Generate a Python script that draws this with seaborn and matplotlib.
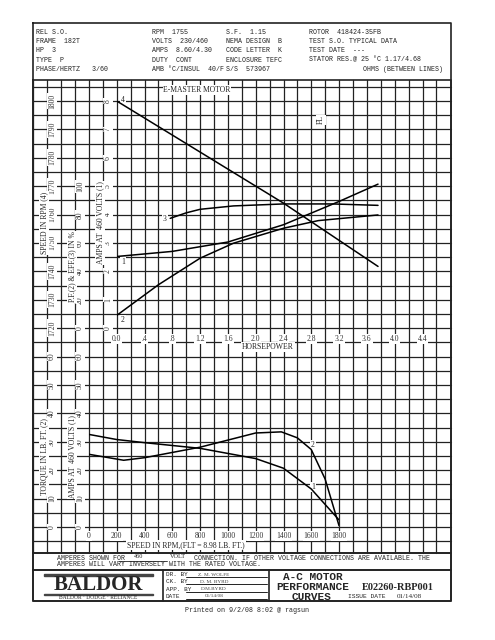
import numpy as np, pandas as pd
import matplotlib
matplotlib.use("Agg")
import matplotlib.pyplot as plt
import seaborn as sns
from matplotlib.transforms import blended_transform_factory as btf

# ---- data ----
hp_speed = [0.0, 1.2, 2.4, 3.76]
speed_rpm = [1800, 1782, 1764, 1741.7]
hp_eff = [0.77, 1.0, 1.2, 1.68, 2.4, 3.1, 3.76]
eff_pct = [77.6, 81.5, 84.0, 86.4, 87.8, 87.8, 86.8]
hp_pf = [0.0, 0.6, 1.2, 1.68, 2.4, 2.9, 3.76]
pf_pct = [8.9, 30.6, 49.4, 60.0, 70.6, 76.0, 80.0]
hp_amps = [0.0, 0.8, 1.6, 2.4, 2.8, 3.2, 3.76]
amps_load = [2.52, 2.70, 3.03, 3.64, 4.05, 4.46, 5.07]
rpm_amps = [0, 200, 400, 800, 1200, 1400, 1600, 1800]
amps_speed = [32.6, 30.8, 29.7, 27.7, 24.1, 20.7, 13.4, 2.5]
rpm_torque = [0, 250, 400, 800, 1200, 1385, 1500, 1600, 1700, 1800]
torque = [25.6, 23.5, 24.4, 28.1, 33.1, 33.5, 31.4, 27.3, 16.9, 0.5]

hp_ticks = [0.0, 0.4, 0.8, 1.2, 1.6, 2.0, 2.4, 2.8, 3.2, 3.6, 4.0, 4.4]
hp_labels = ["0.0", ".4", ".8", "1.2", "1.6", "2.0", "2.4", "2.8", "3.2", "3.6", "4.0", "4.4"]
speed_ticks = [1720, 1730, 1740, 1750, 1760, 1770, 1780, 1790, 1800]
pct_ticks = [0, 20, 40, 60, 80, 100]
amp_ticks = [0, 1, 2, 3, 4, 5, 6, 7, 8]
rpm_ticks = [0, 200, 400, 600, 800, 1000, 1200, 1400, 1600, 1800]
low_ticks = [0, 10, 20, 30, 40, 50, 60]

sns.set_theme(style="white")
plt.rcParams['font.family'] = ['Liberation Serif', 'DejaVu Serif']
W, H = 495, 640
fig = plt.figure(figsize=(W/100, H/100), dpi=100)
fig.patch.set_facecolor('white')
ax0 = fig.add_axes([0, 0, 1, 1]); ax0.set_xlim(0, W); ax0.set_ylim(H, 0); ax0.axis('off')

L, R = 33.3, 451
for k in range(0, 30):
    x = L + k*13.9
    ax0.plot([x, x], [80, 553], color='#222', lw=0.9)
for k in range(0, 33):
    y = 86.8 + k*14.2
    ax0.plot([L, R], [y, y], color='#222', lw=0.9)
for (x0, y0, x1, y1) in [(L, 23.3, R, 601), (L, 80, R, 553), (L, 553, R, 570), (L, 570, R, 601)]:
    ax0.plot([x0, x1, x1, x0, x0], [y0, y0, y1, y1, y0], color='#222', lw=1.2)
ax0.plot([163, 163], [570, 601], color='#222', lw=1.2)
ax0.plot([269, 269], [570, 601], color='#222', lw=1.2)

def pos(x0, x1, y0, y1):
    return [x0/W, 1-y0/H, (x1-x0)/W, (y0-y1)/H]

def mk(p, xl, yl):
    a = fig.add_axes(p); a.set_xlim(*xl); a.set_ylim(*yl); a.axis('off'); a.patch.set_alpha(0)
    return a

ptop = pos(116.7, 422.5, 328, 101)
PCT_TOP = 100 * 227 / (328 - 186.7)
a_amp = mk(ptop, (0, 4.4), (0, 8))
a_spd = mk(ptop, (0, 4.4), (1720, 1800))
a_pct = mk(ptop, (0, 4.4), (0, PCT_TOP))
pbot = pos(88.9, 339, 527, 385)
a_low = mk(pbot, (0, 1800), (0, 50))

kw = dict(color='black', lw=1.1, estimator=None, sort=False)
sns.lineplot(x=hp_speed, y=speed_rpm, ax=a_spd, **kw)
sns.lineplot(x=hp_eff, y=eff_pct, ax=a_pct, **kw)
sns.lineplot(x=hp_pf, y=pf_pct, ax=a_pct, **kw)
sns.lineplot(x=hp_amps, y=amps_load, ax=a_amp, **kw)
sns.lineplot(x=rpm_amps, y=amps_speed, ax=a_low, **kw)
sns.lineplot(x=rpm_torque, y=torque, ax=a_low, **kw)
for a in (a_spd, a_pct, a_amp, a_low):
    a.axis('off')
a_spd.set_xlim(0, 4.4); a_pct.set_xlim(0, 4.4); a_amp.set_xlim(0, 4.4); a_low.set_xlim(0, 1800)
a_spd.set_ylim(1720, 1800); a_pct.set_ylim(0, PCT_TOP); a_amp.set_ylim(0, 8); a_low.set_ylim(0, 50)

wb = dict(facecolor='white', edgecolor='none', pad=0.6)
ts = 5.5
def vtick(a, vals, x):
    tr = btf(ax0.transData, a.transData)
    for v in vals:
        ax0.text(x, v, str(v), transform=tr, rotation=90, ha='center', va='center', fontsize=ts, bbox=wb, color='#333')
vtick(a_spd, speed_ticks, 52)
vtick(a_pct, pct_ticks, 80)
vtick(a_amp, amp_ticks, 108)
vtick(a_low, low_ticks, 52)
vtick(a_low, low_ticks, 80)
trx = btf(a_amp.transData, ax0.transData)
for v, s in zip(hp_ticks, hp_labels):
    ax0.text(v, 339, s, transform=trx, ha='center', va='center', fontsize=ts, bbox=wb, color='#333')
trr = btf(a_low.transData, ax0.transData)
for v in rpm_ticks:
    ax0.text(v, 536, str(v), transform=trr, ha='center', va='center', fontsize=ts, bbox=wb, color='#333')

def t(x, y, s, fs=5.5, **k):
    ax0.text(x, y, s, fontsize=fs, color='#222', **k)
t(44, 223, "SPEED IN RPM (4)", rotation=90, ha='center', va='center', bbox=wb)
t(72, 267, "P.F.(2) & EFF.(3) IN %", rotation=90, ha='center', va='center', bbox=wb)
t(100, 223, "AMPS AT  460 VOLTS (1)", rotation=90, ha='center', va='center', bbox=wb)
t(268, 347, "HORSEPOWER", ha='center', va='center', bbox=wb)
t(197, 90, "E-MASTER MOTOR", ha='center', va='center', bbox=wb)
t(321, 120, "FL", rotation=90, ha='center', va='center', bbox=wb)
t(44, 457, "TORQUE IN LB. FT. (2)", rotation=90, ha='center', va='center', bbox=wb)
t(72, 457, "AMPS AT  460 VOLTS (1)", rotation=90, ha='center', va='center', bbox=wb)
t(186, 545, "SPEED IN RPM,(FLT = 8.98 LB. FT.)", ha='center', va='center', bbox=wb)
for (x, y, s) in [(123, 100, "4"), (165, 219, "3"), (123, 262, "1"), (123, 320, "2"), (313, 445, "2"), (313, 487, "1")]:
    t(x, y, s, ha='center', va='center', bbox=wb)

mono = ['Liberation Mono', 'DejaVu Sans Mono']
hdr = [
 (36, ["REL S.O.", "FRAME  182T", "HP  3", "TYPE  P", "PHASE/HERTZ   3/60"]),
 (152, ["RPM  1755", "VOLTS  230/460", "AMPS  8.60/4.30", "DUTY  CONT", "AMB °C/INSUL  40/F"]),
 (226, ["S.F.  1.15", "NEMA DESIGN  B", "CODE LETTER  K", "ENCLOSURE TEFC", "S/S  573967"]),
 (309, ["ROTOR  418424-35FB", "TEST S.O. TYPICAL DATA", "TEST DATE  ---", "STATOR RES.@ 25 °C 1.17/4.68", ""]),
]
for x, rows in hdr:
    for i, s in enumerate(rows):
        ax0.text(x, 32 + i*9.4, s, fontsize=4.8, family=mono, va='center', color='#222')
ax0.text(363, 69.6, "OHMS (BETWEEN LINES)", fontsize=4.8, family=mono, va='center', color='#222')

ax0.text(57, 558, "AMPERES SHOWN FOR ", fontsize=4.8, family=mono, va='center')
ax0.plot([119, 167], [561, 561], color='#222', lw=0.6)
ax0.text(139, 557, "460", fontsize=4.5, ha='center', va='center')
ax0.text(170, 557, "VOLT", fontsize=4.5, va='center')
ax0.text(190, 558, " CONNECTION. IF OTHER VOLTAGE CONNECTIONS ARE AVAILABLE. THE", fontsize=4.8, family=mono, va='center')
ax0.text(57, 565, "AMPERES WILL VARY INVERSELY WITH THE RATED VOLTAGE.", fontsize=4.8, family=mono, va='center')

ax0.add_patch(plt.Rectangle((44, 573.5), 109, 2.5, color='#444'))
ax0.add_patch(plt.Rectangle((44, 593.5), 109, 1.2, color='#444'))
ax0.text(98.5, 584.5, "BALDOR", fontsize=15, fontweight='bold', ha='center', va='center', family=['Liberation Serif'])
ax0.text(98.5, 597.5, "BALDOR · DODGE · RELIANCE", fontsize=4, ha='center', va='center')
for i, (lab, v) in enumerate([("DR. BY", "Z. M. WOLFE"), ("CK. BY", "D. M. BYRD"), ("APP. BY", "D.M.BYRD"), ("DATE", "01/14/08")]):
    y = 574.5 + i*7.3
    ax0.text(166, y, lab, fontsize=4.3, family=mono, va='center')
    ax0.plot([186, 267], [y+2.5, y+2.5], color='#222', lw=0.7)
    ax0.text(214, y, v, fontsize=3.8, ha='center', va='center', color='#444')
ax0.text(283, 577.5, "A-C MOTOR", fontsize=8, family=mono, fontweight='bold', va='center')
ax0.text(276, 587.5, "PERFORMANCE", fontsize=8, family=mono, fontweight='bold', va='center')
ax0.text(292, 597.5, "CURVES", fontsize=8, family=mono, fontweight='bold', va='center')
ax0.text(362, 588, "E02260-RBP001", fontsize=7.5, fontweight='bold', va='center')
ax0.text(348, 596.5, "ISSUE DATE", fontsize=4.5, family=mono, va='center')
ax0.text(397, 597, "01/14/08", fontsize=5, va='center')
ax0.text(247, 611, "Printed on 9/2/08 8:02 @ ragsun", fontsize=4.8, family=mono, ha='center', va='center')

fig.savefig("out.png", dpi=100, facecolor='white')
